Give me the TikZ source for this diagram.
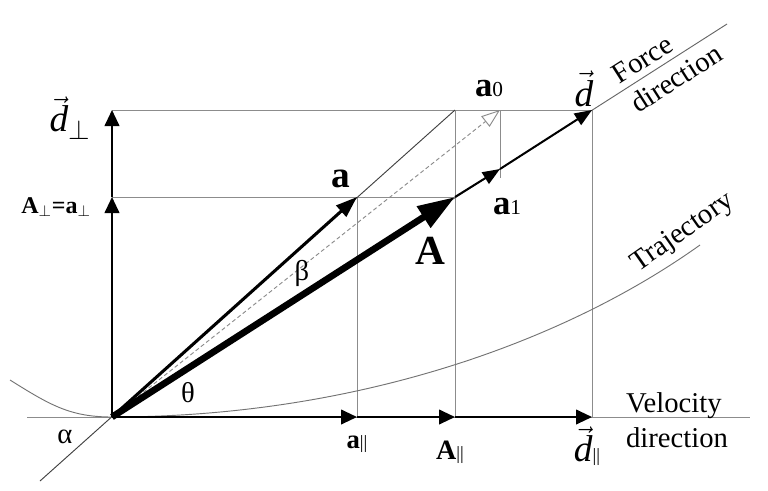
\documentclass[tikz,border=0pt]{standalone}
\usepackage{amsmath}
\usepackage{fontspec}
\setmainfont{Liberation Serif}
\usetikzlibrary{arrows.meta}

\begin{document}
\begin{tikzpicture}[x=0.75pt,y=-0.75pt,>={Triangle[length=12pt,width=11pt]},
  guide/.style={draw=black!45,line width=0.7pt},
  axis/.style={->,line width=1.5pt},
  lbl/.style={inner sep=0pt,font=\fontsize{21.5}{26}\selectfont},
  bigl/.style={inner sep=0pt,font=\bfseries\fontsize{28}{30}\selectfont},
  midl/.style={inner sep=0pt,font=\bfseries\fontsize{20}{22}\selectfont}, ]

	\useasboundingbox (0,0) rectangle (768,490);

	\coordinate (O) at (112,417);
	\coordinate (apar) at (357,417);
	\coordinate (Apar) at (455,417);
	\coordinate (dpar) at (592,417);
	\coordinate (Aperp) at (112,197);
	\coordinate (dperp) at (112,110);
	\coordinate (a) at (357,197);
	\coordinate (A) at (455,197);
	\coordinate (d) at (592,110);
	\coordinate (a0) at (500,110);
	\coordinate (a0b) at (500,178);
	\coordinate (a1) at (500,169);
	\coordinate (t) at (455,110);
	\coordinate (lo) at (40,481);
	\coordinate (fd) at (727,24);
	\coordinate (vl) at (27,417);
	\coordinate (vr) at (750,417);
	\coordinate (tr0) at (10,380);
	\coordinate (tr1) at (700,245);

	\draw[guide] (vl) -- (vr);
	\draw[guide] (dperp) -- (d);
	\draw[guide] (Aperp) -- (A);
	\draw[guide] (apar) -- (a);
	\draw[guide] (Apar) -- (t);
	\draw[guide] (dpar) -- (d);
	\draw[guide] (a0) -- (a0b);
	\draw[guide,draw=black!75] (lo) -- (t);
	\draw[guide,draw=black!60] (O) -- (fd);
	\draw[guide,dash pattern=on 3pt off 2pt,-{Triangle[open,length=14pt,width=10pt]}] (O) -- (a0);
	\draw[guide,draw=black!55] (tr0) .. controls (50,405) and (70,417) .. (O) .. controls (350,417) and (560,345) .. (tr1);

	\draw[axis] (O) -- (apar);
	\draw[axis] (apar) -- (Apar);
	\draw[axis] (Apar) -- (dpar);
	\draw[axis] (O) -- (Aperp);
	\draw[axis] (Aperp) -- (dperp);
	\draw[->,line width=2.3pt,>={Triangle[length=16pt,width=11pt]}] (O) -- (a);
	\draw[-{Triangle[length=28pt,width=18pt]},line width=5pt] (O) -- (A);
	\draw[axis,>={Triangle[length=13pt,width=10pt]}] (A) -- (a1);
	\draw[axis,>={Triangle[length=13pt,width=10pt]}] (a1) -- (d);

	\node[lbl,font=\fontsize{28}{30}\selectfont] (ldperp) at (70,118) {$\vec{\textit{d}}_{\perp}$};
	\node[midl,font=\bfseries\fontsize{18}{20}\selectfont] (lAperp) at (56,207) {A$_{\perp}$=a$_{\perp}$};
	\node[bigl] (la) at (341,179) {a};
	\node[bigl,font=\bfseries\fontsize{26}{28}\selectfont] (la0) at (489,89) {a{\mdseries\fontsize{16}{16}\selectfont 0}};
	\node[bigl,font=\bfseries\fontsize{26}{28}\selectfont] (la1) at (507,207) {a{\mdseries\fontsize{16}{16}\selectfont 1}};
	\node[lbl,font=\fontsize{28}{30}\selectfont] (ld) at (584,89) {$\vec{\textit{d}}$};
	\node[bigl,font=\bfseries\fontsize{31}{34}\selectfont] (lA) at (430,251) {A};
	\node[lbl] (lbeta) at (302,273) {β};
	\node[lbl] (ltheta) at (188,393) {θ};
	\node[lbl] (lalpha) at (65,437) {α};
	\node[midl] (lapar) at (357,444) {a{\mdseries\fontsize{14}{14}\selectfont ||}};
	\node[midl,font=\bfseries\fontsize{21}{22}\selectfont] (lApar) at (450,452) {A{\mdseries\fontsize{14}{14}\selectfont ||}};
	\node[lbl,font=\fontsize{28}{30}\selectfont] (ldpar) at (587,446) {$\vec{\textit{d}}${\fontsize{14}{14}\selectfont ||}};
	\node[lbl,align=left] (lvel) at (677,420) {Velocity\\direction};
	\node[lbl,align=left,rotate=32.5] (lforce) at (667,64) {Force\\direction};
	\node[lbl,rotate=35] (ltraj) at (683,233) {Trajectory};

\end{tikzpicture}
\end{document}
